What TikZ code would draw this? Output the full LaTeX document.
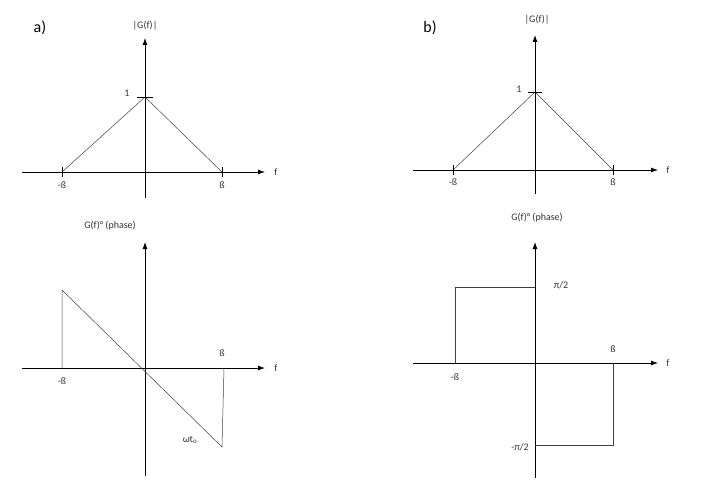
\documentclass[tikz,border=0pt]{standalone}
\usepackage{fontspec}
\setmainfont{Carlito}
\usetikzlibrary{arrows.meta}
\begin{document}
\begin{tikzpicture}[x=1pt,y=-1pt,
  ax/.style={line width=0.8pt,-{Latex[length=7pt,width=5pt]}},
  sig/.style={line width=0.5pt,draw=black!75},
  lbl/.style={font=\fontsize{10}{11}\selectfont,text=black!80,inner sep=1pt},
  big/.style={font=\fontsize{16}{17}\selectfont,inner sep=1pt}]
\useasboundingbox (0,0) rectangle (708,503);
% ---- a) top
\node[big] (la) at (40,28) {a)};
\coordinate (aT0) at (22,172); \coordinate (aT1) at (265,172);
\coordinate (aV0) at (145,198); \coordinate (aV1) at (145,38);
\draw[ax] (aT0) -- (aT1);
\draw[ax] (aV0) -- (aV1);
\node[lbl] (af1) at (276,172) {f};
\node[lbl] (aG) at (145,26) {|G(f)|};
\coordinate (am) at (62,172); \coordinate (ap) at (222,172); \coordinate (apk) at (145,97);
\draw[sig] (am) -- (apk) -- (ap);
\draw (62,167) -- (62,177) (222,167) -- (222,177) (137,97) -- (153,97);
\node[lbl] (a1) at (127,93) {1};
\node[lbl] (amb) at (62,185) {-ß};
\node[lbl] (apb) at (222,185) {ß};
% ---- a) bottom
\coordinate (aB0) at (22,368); \coordinate (aB1) at (265,368);
\coordinate (aW0) at (145,476); \coordinate (aW1) at (145,242);
\draw[ax] (aB0) -- (aB1);
\draw[ax] (aW0) -- (aW1);
\node[lbl] (af2) at (276,368) {f};
\node[lbl] (aph) at (110,226) {G(f)° (phase)};
\draw[sig] (62,368) -- (62,290) -- (222,447) -- (224,368);
\node[lbl] (amb2) at (62,381) {-ß};
\node[lbl] (apb2) at (222,353) {ß};
\node[lbl] (awt) at (190,440) {ωt\textsubscript{o}};
% ---- b) top
\node[big] (lb) at (430,28) {b)};
\coordinate (bT0) at (413,170); \coordinate (bT1) at (658,170);
\coordinate (bV0) at (535,194); \coordinate (bV1) at (535,35);
\draw[ax] (bT0) -- (bT1);
\draw[ax] (bV0) -- (bV1);
\node[lbl] (bf1) at (668,170) {f};
\node[lbl] (bG) at (537,20) {|G(f)|};
\draw[sig] (453,170) -- (535,92) -- (613,170);
\draw (453,165) -- (453,175) (613,165) -- (613,175) (528,92) -- (542,92);
\node[lbl] (b1) at (519,89) {1};
\node[lbl] (bmb) at (453,182) {-ß};
\node[lbl] (bpb) at (613,182) {ß};
% ---- b) bottom
\coordinate (bB0) at (413,363); \coordinate (bB1) at (658,363);
\coordinate (bW0) at (535,478); \coordinate (bW1) at (535,242);
\draw[ax] (bB0) -- (bB1);
\draw[ax] (bW0) -- (bW1);
\node[lbl] (bf2) at (668,363) {f};
\node[lbl] (bph) at (537,218) {G(f)° (phase)};
\draw[sig] (455,363) -- (455,287) -- (535,287);
\draw[sig] (613,363) -- (613,445) -- (535,445);
\node[lbl] (bpi) at (561,285) {π/2};
\node[lbl] (bmpi) at (520,447) {-π/2};
\node[lbl] (bpb2) at (613,349) {ß};
\node[lbl] (bmb2) at (455,377) {-ß};
\end{tikzpicture}
\end{document}
